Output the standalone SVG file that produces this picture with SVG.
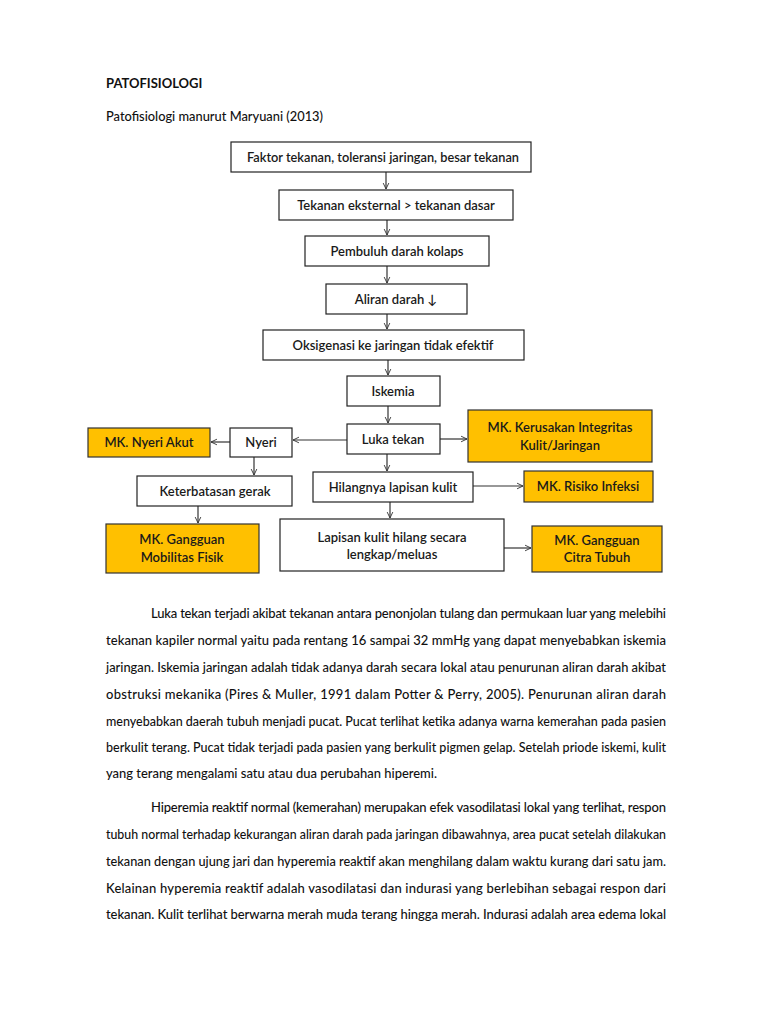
<svg xmlns="http://www.w3.org/2000/svg" width="768" height="1024" viewBox="0 0 768 1024">
<defs>
<marker id="arr" viewBox="0 0 10 10" refX="9.5" refY="5" markerWidth="7" markerHeight="9" markerUnits="userSpaceOnUse" orient="auto">
<path d="M1,1 L9.5,5 L1,9" fill="none" stroke="#333" stroke-width="1.3"/>
</marker>
<style>
.box{fill:#fff;stroke:#222;stroke-width:1.2}
.mk{fill:#FFC000;stroke:#333;stroke-width:1.2}
.lbl{font-family:Lato,"Liberation Sans",sans-serif;font-size:13px;font-weight:600;fill:#1a1a1a;text-anchor:middle}
.con{stroke:#333;stroke-width:1.2;fill:none;marker-end:url(#arr)}
.p{font-family:Lato,"Liberation Sans",sans-serif;font-size:13px;font-weight:500;fill:#111}
.h{font-family:Lato,"Liberation Sans",sans-serif;font-size:13px;font-weight:500;fill:#111}
.hb{font-family:Lato,"Liberation Sans",sans-serif;font-size:13px;font-weight:bold;fill:#111}
</style>
</defs>
<rect width="768" height="1024" fill="#fff"/>
<text class="hb" x="106" y="88">PATOFISIOLOGI</text>
<text class="h" x="106" y="121" textLength="217" lengthAdjust="spacingAndGlyphs">Patofisiologi manurut Maryuani (2013)</text>

<g id="connectors">
<line class="con" x1="386" y1="172" x2="386" y2="189"/>
<line class="con" x1="387" y1="220" x2="387" y2="235"/>
<line class="con" x1="387" y1="266" x2="387" y2="283"/>
<line class="con" x1="387" y1="314" x2="387" y2="329"/>
<line class="con" x1="388" y1="360" x2="388" y2="375"/>
<line class="con" x1="388" y1="406" x2="388" y2="423"/>
<line class="con" x1="347" y1="440" x2="293" y2="440"/>
<line class="con" x1="230" y1="442" x2="211" y2="442"/>
<line class="con" x1="440" y1="439" x2="467" y2="439"/>
<line class="con" x1="387" y1="454" x2="387" y2="471"/>
<line class="con" x1="254" y1="457" x2="254" y2="475"/>
<line class="con" x1="473" y1="486" x2="523" y2="486"/>
<line class="con" x1="390" y1="502" x2="390" y2="518"/>
<line class="con" x1="198" y1="506" x2="198" y2="523"/>
<line class="con" x1="504" y1="548" x2="531" y2="548"/>
</g>

<g id="n1"><rect class="box" x="231" y="142" width="300" height="30"/><text class="lbl" x="383" y="162" textLength="272" lengthAdjust="spacingAndGlyphs">Faktor tekanan, toleransi jaringan, besar tekanan</text></g>
<g id="n2"><rect class="box" x="279" y="190" width="234" height="30"/><text class="lbl" x="396" y="210">Tekanan eksternal &gt; tekanan dasar</text></g>
<g id="n3"><rect class="box" x="305" y="236" width="184" height="30"/><text class="lbl" x="397" y="256">Pembuluh darah kolaps</text></g>
<g id="n4"><rect class="box" x="326" y="284" width="141" height="30"/><text class="lbl" x="396" y="304">Aliran darah ↓</text></g>
<g id="n5"><rect class="box" x="263" y="330" width="261" height="30"/><text class="lbl" x="393" y="350">Oksigenasi ke jaringan tidak efektif</text></g>
<g id="n6"><rect class="box" x="347" y="376" width="93" height="30"/><text class="lbl" x="393" y="396">Iskemia</text></g>
<g id="n7"><rect class="box" x="347" y="424" width="93" height="30"/><text class="lbl" x="393" y="444">Luka tekan</text></g>
<g id="n8"><rect class="box" x="230" y="428" width="62" height="29"/><text class="lbl" x="261" y="447">Nyeri</text></g>
<g id="n9"><rect class="mk" x="88" y="428" width="122" height="29"/><text class="lbl" x="149" y="447">MK. Nyeri Akut</text></g>
<g id="n10"><rect class="mk" x="468" y="410" width="184" height="52"/><text class="lbl" x="560" y="432">MK. Kerusakan Integritas</text><text class="lbl" x="560" y="450">Kulit/Jaringan</text></g>
<g id="n11"><rect class="box" x="313" y="472" width="160" height="30"/><text class="lbl" x="393" y="492">Hilangnya lapisan kulit</text></g>
<g id="n12"><rect class="mk" x="524" y="471" width="129" height="31"/><text class="lbl" x="588" y="491">MK. Risiko Infeksi</text></g>
<g id="n13"><rect class="box" x="137" y="476" width="155" height="30"/><text class="lbl" x="215" y="496">Keterbatasan gerak</text></g>
<g id="n14"><rect class="box" x="280" y="519" width="224" height="52"/><text class="lbl" x="392" y="542">Lapisan kulit hilang secara</text><text class="lbl" x="392" y="559">lengkap/meluas</text></g>
<g id="n15"><rect class="mk" x="532" y="526" width="130" height="46"/><text class="lbl" x="597" y="545">MK. Gangguan</text><text class="lbl" x="597" y="562">Citra Tubuh</text></g>
<g id="n16"><rect class="mk" x="106" y="524" width="153" height="49"/><text class="lbl" x="182" y="544">MK. Gangguan</text><text class="lbl" x="182" y="562">Mobilitas Fisik</text></g>

<g id="para1">
<text class="p" x="151" y="618" textLength="515" lengthAdjust="spacing">Luka tekan terjadi akibat tekanan antara penonjolan tulang dan permukaan luar yang melebihi</text>
<text class="p" x="106" y="645" textLength="560" lengthAdjust="spacing">tekanan kapiler normal yaitu pada rentang 16 sampai 32 mmHg yang dapat menyebabkan iskemia</text>
<text class="p" x="106" y="672" textLength="560" lengthAdjust="spacingAndGlyphs">jaringan. Iskemia jaringan adalah tidak adanya darah secara lokal atau penurunan aliran darah akibat</text>
<text class="p" x="106" y="699" textLength="560" lengthAdjust="spacing">obstruksi mekanika (Pires &amp; Muller, 1991 dalam Potter &amp; Perry, 2005). Penurunan aliran darah</text>
<text class="p" x="106" y="726" textLength="560" lengthAdjust="spacingAndGlyphs">menyebabkan daerah tubuh menjadi pucat. Pucat terlihat ketika adanya warna kemerahan pada pasien</text>
<text class="p" x="106" y="752" textLength="560" lengthAdjust="spacingAndGlyphs">berkulit terang. Pucat tidak terjadi pada pasien yang berkulit pigmen gelap. Setelah priode iskemi, kulit</text>
<text class="p" x="106" y="778" textLength="331" lengthAdjust="spacingAndGlyphs">yang terang mengalami satu atau dua perubahan hiperemi.</text>
</g>
<g id="para2">
<text class="p" x="151" y="812" textLength="515" lengthAdjust="spacing">Hiperemia reaktif normal (kemerahan) merupakan efek vasodilatasi lokal yang terlihat, respon</text>
<text class="p" x="106" y="839" textLength="560" lengthAdjust="spacingAndGlyphs">tubuh normal terhadap kekurangan aliran darah pada jaringan dibawahnya, area pucat setelah dilakukan</text>
<text class="p" x="106" y="866" textLength="560" lengthAdjust="spacingAndGlyphs">tekanan dengan ujung jari dan hyperemia reaktif akan menghilang dalam waktu kurang dari satu jam.</text>
<text class="p" x="106" y="893" textLength="560" lengthAdjust="spacing">Kelainan hyperemia reaktif adalah vasodilatasi dan indurasi yang berlebihan sebagai respon dari</text>
<text class="p" x="106" y="919" textLength="560" lengthAdjust="spacing">tekanan. Kulit terlihat berwarna merah muda terang hingga merah. Indurasi adalah area edema lokal</text>
</g>
</svg>
